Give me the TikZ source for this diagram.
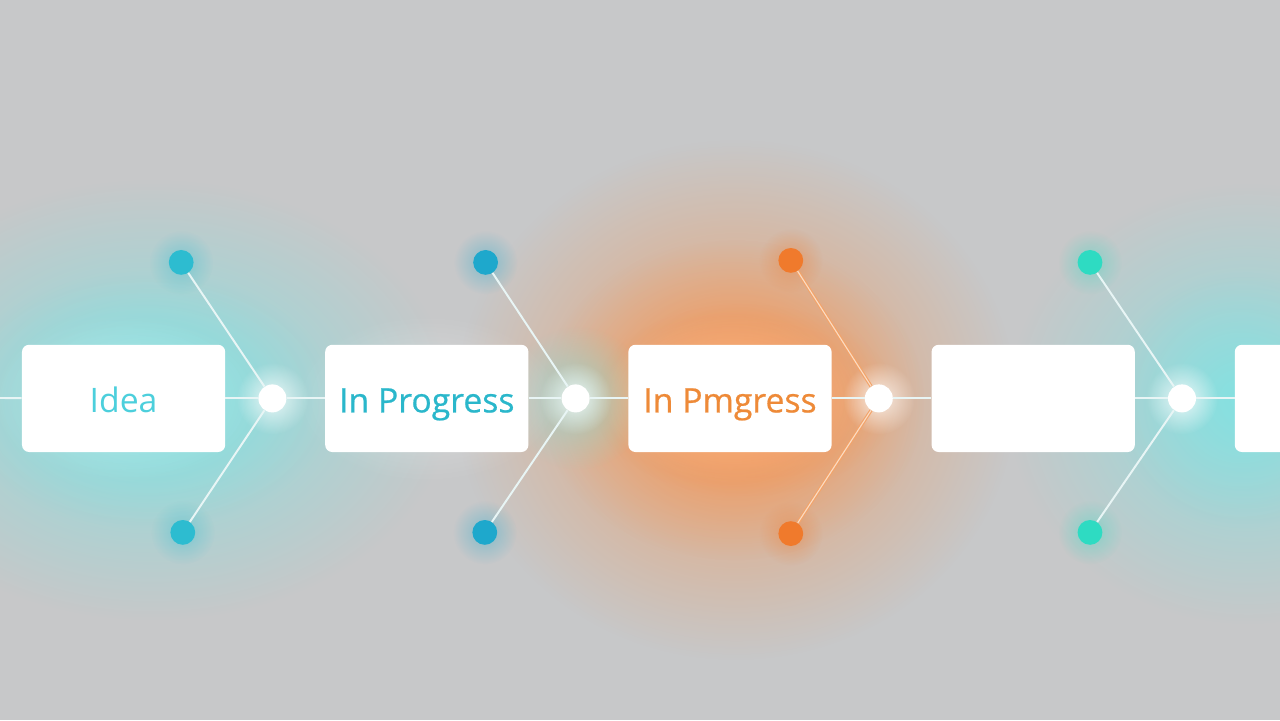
\documentclass[tikz,border=0pt]{standalone}
\usepackage{fontspec}
\setmainfont{Open Sans}
\newfontfamily\cardfont{Open Sans}[FakeBold=0.6]
\usetikzlibrary{fadings}
\definecolor{bggray}{HTML}{C7C8C9}
\definecolor{ideacyan}{HTML}{4CCFDC}
\definecolor{progteal}{HTML}{2AB7CB}
\definecolor{pmorange}{HTML}{EE8A38}
\definecolor{pincyan}{HTML}{2DBCD0}
\definecolor{pinblue}{HTML}{1EA8CC}
\definecolor{pinorange}{HTML}{F07A2C}
\definecolor{pinmint}{HTML}{2EDBC2}
\definecolor{wirec}{HTML}{E8F5F5}
\definecolor{wireorange}{HTML}{F3A46A}
\definecolor{glowcyan}{HTML}{7EE4E4}
\definecolor{gloworange}{HTML}{F8944F}
\tikzfading[name=glowfade, inner color=transparent!0, outer color=transparent!100]
\pgfdeclarelayer{back}
\pgfsetlayers{back,main}

\begin{document}
\begin{tikzpicture}[node distance=7.58cm, semithick]
  \tikzstyle{every node}=[font=\fontsize{24}{28}\selectfont]
  \tikzstyle{card}=[fill=white, rounded corners=5pt, minimum width=5.08cm, minimum height=2.68cm, inner sep=0pt, text height=0.9cm, text depth=0.2cm]
  \tikzstyle{hub}=[circle, fill=white, minimum size=0.7cm, inner sep=0pt]
  \tikzstyle{pin}=[circle, minimum size=0.62cm, inner sep=0pt]
  \tikzstyle{wire}=[draw=wirec, line width=1.4pt]
  \tikzstyle{glow}=[path fading=glowfade]
\useasboundingbox (0,0) rectangle (32,18);
\begin{pgfonlayer}{back}
  \fill[bggray] (0,0) rectangle (32,18);
  \fill[glowcyan, glow, fill opacity=0.8] (3.8,8.0) ellipse (7.5cm and 5.5cm);
  \fill[glowcyan, glow, fill opacity=0.7] (3.6,8.0) ellipse (4.8cm and 3.2cm);
  \fill[gloworange, glow, fill opacity=0.75] (18.4,8.0) ellipse (7cm and 6.5cm);
  \fill[gloworange, glow, fill opacity=0.85] (18.3,8.0) ellipse (4.8cm and 4cm);
  \fill[gloworange, glow, fill opacity=0.8] (18.6,8.0) ellipse (3.8cm and 2.4cm);
  \fill[glowcyan, glow, fill opacity=0.75] (31.2,7.9) ellipse (6cm and 5.5cm);
  \fill[glowcyan, glow, fill opacity=0.6] (31.0,8.0) ellipse (3.2cm and 3.2cm);
  \fill[glowcyan, glow, fill opacity=0.6] (14.43,8.05) circle (1.8cm);
\end{pgfonlayer}

\coordinate (lin) at (0,8.05);
\node[card] (box1) at (3.09,8.04) {\textcolor{ideacyan}{Idea}};
\node[card] [right of=box1] (box2) {\cardfont\textcolor{progteal}{In Progress}};
\node[card] [right of=box2] (box3) {\cardfont\textcolor{pmorange}{In Pmgress}};
\node[card] [right of=box3] (box4) {};
\node[card] [right of=box4] (box5) {};

\node[hub] [right of=box1, node distance=3.72cm] (j1) {};
\node[hub] [right of=box2, node distance=3.72cm] (j2) {};
\node[hub] [right of=box3, node distance=3.72cm] (j3) {};
\node[hub] [right of=box4, node distance=3.72cm] (j4) {};

\path (j1) ++(-2.28,3.4) node[pin, fill=pincyan] (t1) {};
\path (j1) ++(-2.24,-3.35) node[pin, fill=pincyan] (b1) {};
\path (j2) ++(-2.25,3.4) node[pin, fill=pinblue] (t2) {};
\path (j2) ++(-2.27,-3.35) node[pin, fill=pinblue] (b2) {};
\path (j3) ++(-2.2,3.45) node[pin, fill=pinorange] (t3) {};
\path (j3) ++(-2.2,-3.38) node[pin, fill=pinorange] (b3) {};
\path (j4) ++(-2.3,3.4) node[pin, fill=pinmint] (t4) {};
\path (j4) ++(-2.3,-3.35) node[pin, fill=pinmint] (b4) {};

\begin{pgfonlayer}{back}
  \foreach \p/\c in {t1/pincyan, b1/pincyan, t2/pinblue, b2/pinblue, t3/pinorange, b3/pinorange, t4/pinmint, b4/pinmint}
    \fill[\c, glow, fill opacity=0.4] (\p) circle (0.8cm);
  \foreach \h in {j1, j2, j3, j4}
    \fill[white, glow, fill opacity=0.8] (\h) circle (0.9cm);
  \foreach \b in {box1, box2, box3}
    \fill[white, glow, fill opacity=0.35] (\b) ellipse (3.3cm and 2.1cm);
\end{pgfonlayer}

\path[wire] (lin) edge (box1)
  (box1) edge (j1) (j1) edge (box2) (j1) edge (t1) (j1) edge (b1)
  (box2) edge (j2) (j2) edge (box3) (j2) edge (t2) (j2) edge (b2)
  (box3) edge (j3) (j3) edge (box4)
  (box4) edge (j4) (j4) edge (box5) (j4) edge (t4) (j4) edge (b4);
\path[draw=wireorange, line width=2.4pt] (j3) edge (t3) (j3) edge (b3);
\path[draw=white!60!wireorange, line width=0.8pt] (j3) edge (t3) (j3) edge (b3);

\end{tikzpicture}
\end{document}
